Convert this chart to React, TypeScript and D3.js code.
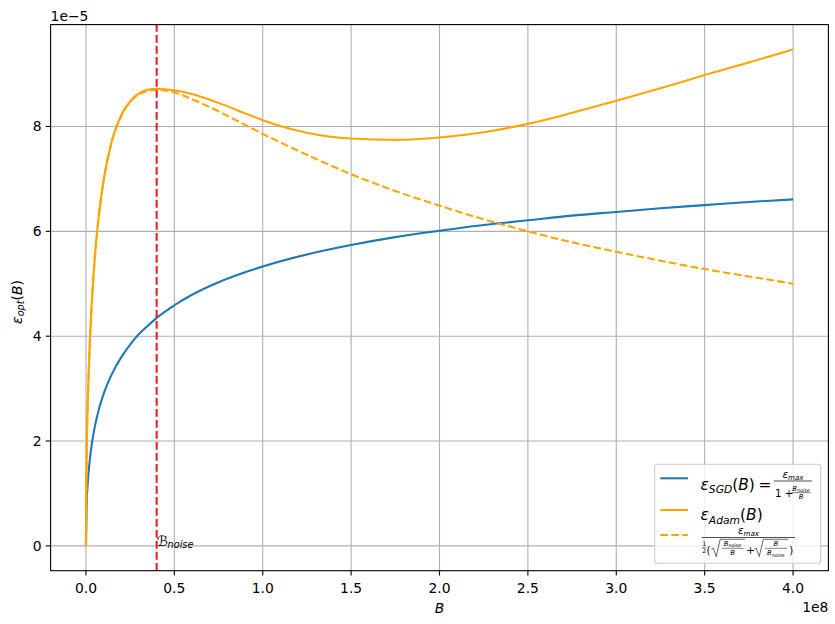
import React from "react";
import * as d3 from "d3";

// B in units of 1e8, values in units of 1e-5
const batchSizes = [0, 0.004, 0.01, 0.02, 0.03, 0.05, 0.075, 0.1, 0.15, 0.2, 0.25, 0.3, 0.35, 0.4, 0.5, 0.6, 0.75, 0.9, 1.0, 1.25, 1.5, 1.75, 2.0, 2.25, 2.5, 2.75, 3.0, 3.25, 3.5, 3.75, 4.0];
const sgdValues = [0, 0.79, 1.19, 1.59, 1.87, 2.27, 2.63, 2.9, 3.3, 3.6, 3.84, 4.04, 4.2, 4.35, 4.59, 4.79, 5.03, 5.22, 5.33, 5.56, 5.74, 5.89, 6.01, 6.12, 6.21, 6.3, 6.37, 6.44, 6.5, 6.56, 6.61];
const adamValues = [0, 1.73, 2.7, 3.73, 4.46, 5.5, 6.37, 6.98, 7.77, 8.22, 8.48, 8.63, 8.7, 8.72, 8.69, 8.62, 8.45, 8.25, 8.12, 7.88, 7.77, 7.745, 7.79, 7.89, 8.05, 8.26, 8.49, 8.73, 8.98, 9.22, 9.47];
const approxValues = [0, 1.72, 2.68, 3.71, 4.43, 5.47, 6.35, 6.96, 7.75, 8.2, 8.47, 8.61, 8.68, 8.7, 8.65, 8.52, 8.29, 8.03, 7.86, 7.46, 7.09, 6.77, 6.49, 6.23, 6.0, 5.79, 5.61, 5.44, 5.28, 5.14, 5.0];
const bNoise = 0.4;

const xTicks = [0, 0.5, 1, 1.5, 2, 2.5, 3, 3.5, 4];
const xTickLabels = ["0.0", "0.5", "1.0", "1.5", "2.0", "2.5", "3.0", "3.5", "4.0"];
const yTicks = [0, 2, 4, 6, 8];
const yTickLabels = ["0", "2", "4", "6", "8"];

const BLUE = "#1f77b4";
const ORANGE = "#ffa500";
const RED = "#ee1c24";
const FONT = "DejaVu Sans";

export default function App() {
  const W = 835, H = 624;
  const x = d3.scaleLinear().domain([-0.2, 4.2]).range([50.6, 828.4]);
  const y = d3.scaleLinear().domain([-0.4735, 9.9435]).range([570.7, 24.6]);
  const [x0, x1] = x.range();
  const [y0, y1] = y.range();
  const mk = (vals: number[]) =>
    d3.line<number>().x((_, i) => x(batchSizes[i])).y((d) => y(d)).curve(d3.curveMonotoneX)(vals) || "";

  const fs = 13.9;
  const lf = 15.4; // legend math main size
  const ls = 10.75; // legend subscript size
  const it = { fontStyle: "italic" } as const;

  return (
    <svg width={W} height={H} style={{ position: "absolute", left: 0, top: 0, background: "#fff" }} fontFamily={FONT}>
      <rect x={0} y={0} width={W} height={H} fill="#fff" />
      {/* grid */}
      {xTicks.map((t) => (
        <line key={"gx" + t} x1={x(t)} x2={x(t)} y1={y0} y2={y1} stroke="#b0b0b0" strokeWidth={1.1} />
      ))}
      {yTicks.map((t) => (
        <line key={"gy" + t} x1={x0} x2={x1} y1={y(t)} y2={y(t)} stroke="#b0b0b0" strokeWidth={1.1} />
      ))}
      {/* curves */}
      <path d={mk(sgdValues)} fill="none" stroke={BLUE} strokeWidth={2.08} />
      <path d={mk(adamValues)} fill="none" stroke={ORANGE} strokeWidth={2.08} />
      <path d={mk(approxValues)} fill="none" stroke={ORANGE} strokeWidth={2.08} strokeDasharray="7.7 3.3" />
      <line x1={x(bNoise)} x2={x(bNoise)} y1={y0} y2={y1} stroke={RED} strokeWidth={2.08} strokeDasharray="7.7 3.3" />
      {/* B_noise annotation */}
      <text x={x(bNoise)} y={y(0)} fontSize={fs} fill="#000">
        <tspan>ℬ</tspan>
        <tspan fontSize={9.7} dy={2.4} style={it}>noise</tspan>
      </text>
      {/* spines */}
      <rect x={x0} y={y1} width={x1 - x0} height={y0 - y1} fill="none" stroke="#000" strokeWidth={1.1} />
      {/* ticks */}
      {xTicks.map((t, i) => (
        <g key={"tx" + t}>
          <line x1={x(t)} x2={x(t)} y1={y0} y2={y0 + 4.86} stroke="#000" strokeWidth={1.1} />
          <text x={x(t)} y={593.3} fontSize={fs} textAnchor="middle" fill="#000">{xTickLabels[i]}</text>
        </g>
      ))}
      {yTicks.map((t, i) => (
        <g key={"ty" + t}>
          <line x1={x0} x2={x0 - 4.86} y1={y(t)} y2={y(t)} stroke="#000" strokeWidth={1.1} />
          <text x={41.6} y={y(t) + 5} fontSize={fs} textAnchor="end" fill="#000">{yTickLabels[i]}</text>
        </g>
      ))}
      <text x={50.6} y={21} fontSize={fs} fill="#000">1e−5</text>
      <text x={828.4} y={611.6} fontSize={fs} textAnchor="end" fill="#000">1e8</text>
      {/* axis labels */}
      <text x={(x0 + x1) / 2} y={613} fontSize={fs} textAnchor="middle" style={it} fill="#000">B</text>
      <text transform="translate(21.5,302) rotate(-90)" fontSize={fs} textAnchor="middle" fill="#000">
        <tspan style={it}>ε</tspan>
        <tspan fontSize={9.7} dy={2.5} style={it}>opt</tspan>
        <tspan dy={-2.5}>(</tspan>
        <tspan style={it}>B</tspan>
        <tspan>)</tspan>
      </text>
      {/* legend */}
      <rect x={654.7} y={464.3} width={166} height={99} rx={2.8} fill="#fff" fillOpacity={0.8} stroke="#cccccc" strokeWidth={1.1} />
      <line x1={660.3} x2={688.1} y1={478.3} y2={478.3} stroke={BLUE} strokeWidth={2.08} />
      <line x1={660.3} x2={688.1} y1={510} y2={510} stroke={ORANGE} strokeWidth={2.08} />
      <line x1={660.3} x2={688.1} y1={535} y2={535} stroke={ORANGE} strokeWidth={2.08} strokeDasharray="7.7 3.3" />
      {/* row 1 */}
      <text x={700.5} y={490} fontSize={lf} fill="#000">
        <tspan style={it}>ε</tspan>
        <tspan fontSize={ls} dy={3.4} style={it}>SGD</tspan>
        <tspan dy={-3.4}>(</tspan>
        <tspan style={it}>B</tspan>
        <tspan>)</tspan>
        <tspan x={758.5}>=</tspan>
      </text>
      <text x={793} y={477.5} fontSize={10.3} textAnchor="middle" fill="#000">
        <tspan style={it}>ε</tspan>
        <tspan fontSize={7.2} dy={2} style={it}>max</tspan>
      </text>
      <line x1={774} x2={812} y1={481} y2={481} stroke="#000" strokeWidth={0.7} />
      <text x={775} y={497} fontSize={10.3} fill="#000">1 +</text>
      <text x={801} y={490.8} fontSize={6.8} textAnchor="middle" fill="#000">
        <tspan style={it}>B</tspan>
        <tspan fontSize={4.8} dy={1.2} style={it}>noise</tspan>
      </text>
      <line x1={791.5} x2={810.5} y1={492.7} y2={492.7} stroke="#000" strokeWidth={0.5} />
      <text x={801} y={499.2} fontSize={6.8} textAnchor="middle" style={it} fill="#000">B</text>
      {/* row 2 */}
      <text x={700.5} y={520.3} fontSize={lf} fill="#000">
        <tspan style={it}>ε</tspan>
        <tspan fontSize={ls} dy={3.4} style={it}>Adam</tspan>
        <tspan dy={-3.4}>(</tspan>
        <tspan style={it}>B</tspan>
        <tspan>)</tspan>
      </text>
      {/* row 3 */}
      <text x={748.5} y={534.3} fontSize={10.3} textAnchor="middle" fill="#000">
        <tspan style={it}>ε</tspan>
        <tspan fontSize={7.2} dy={2} style={it}>max</tspan>
      </text>
      <line x1={701.7} x2={795} y1={537.5} y2={537.5} stroke="#000" strokeWidth={0.7} />
      <text x={704.2} y={546} fontSize={6.2} textAnchor="middle" fill="#000">1</text>
      <line x1={702} x2={706.5} y1={547.6} y2={547.6} stroke="#000" strokeWidth={0.4} />
      <text x={704.2} y={553.2} fontSize={6.2} textAnchor="middle" fill="#000">2</text>
      <text x={706.6} y={554.3} fontSize={10.3} fill="#000">(</text>
      <path d="M711.5,549.2 L713.3,548.2 L716.2,556.6 L720.2,539.3 L745,539.3" fill="none" stroke="#000" strokeWidth={0.6} />
      <text x={732.5} y={545.6} fontSize={6.8} textAnchor="middle" fill="#000">
        <tspan style={it}>B</tspan>
        <tspan fontSize={4.8} dy={1.2} style={it}>noise</tspan>
      </text>
      <line x1={722} x2={743.5} y1={548.3} y2={548.3} stroke="#000" strokeWidth={0.5} />
      <text x={732.5} y={554.7} fontSize={6.8} textAnchor="middle" style={it} fill="#000">B</text>
      <text x={746.2} y={553.5} fontSize={10.3} fill="#000">+</text>
      <path d="M754.5,549.2 L756.3,548.2 L759.2,556.6 L763.3,539.3 L788.3,539.3" fill="none" stroke="#000" strokeWidth={0.6} />
      <text x={775.8} y={545.6} fontSize={6.8} textAnchor="middle" style={it} fill="#000">B</text>
      <line x1={765} x2={787} y1={548.3} y2={548.3} stroke="#000" strokeWidth={0.5} />
      <text x={775.8} y={555.4} fontSize={6.8} textAnchor="middle" fill="#000">
        <tspan style={it}>B</tspan>
        <tspan fontSize={4.8} dy={1.2} style={it}>noise</tspan>
      </text>
      <text x={789.2} y={554.3} fontSize={10.3} fill="#000">)</text>
    </svg>
  );
}
